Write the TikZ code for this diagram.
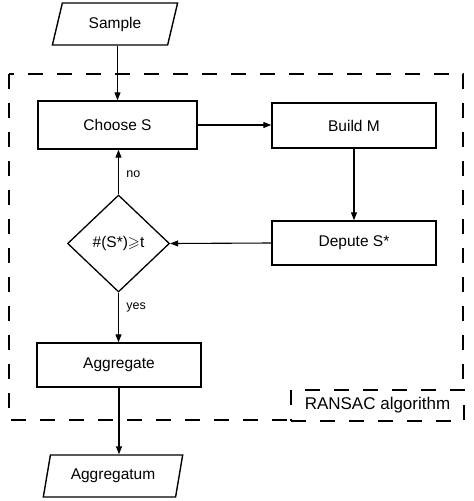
\documentclass[tikz,border=0pt]{standalone}
\usepackage{fontspec}
\usepackage{amssymb}
\setmainfont{Liberation Sans}
\usetikzlibrary{shapes.geometric,arrows.meta}
\begin{document}
\begin{tikzpicture}[x=1pt,y=-1pt,
  every node/.style={font=\fontsize{15.5}{18}\selectfont},
  proc/.style={draw,line width=1.4pt,rectangle,inner sep=0pt},
  io/.style={draw,line width=1.4pt,trapezium,trapezium left angle=71,trapezium right angle=109,trapezium stretches=true,inner sep=0pt},
  dec/.style={draw,line width=1.3pt,diamond,inner sep=0pt},
  flow/.style={line width=1.1pt,-{Triangle[length=8pt,width=6pt]}},
  lbl/.style={font=\fontsize{12.5}{14}\selectfont},
  frame/.style={line width=2pt,dash pattern=on 15pt off 14pt}]
\useasboundingbox (0,0) rectangle (474,501);
% algorithm frame
\draw[frame] (9,74) rectangle (463,420);
\node[draw,fill=white,frame,minimum width=173pt,minimum height=31pt,inner sep=0pt,
  font=\fontsize{17}{20}\selectfont,anchor=north west] (ransac) at (290,389) {RANSAC algorithm};
% nodes
\node[io,minimum width=126pt,minimum height=42pt] (sample) at (115,24) {Sample};
\node[proc,minimum width=159pt,minimum height=48pt] (choose) at (117.5,125) {Choose S};
\node[proc,minimum width=164pt,minimum height=45pt] (build) at (354,125.5) {Build M};
\node[proc,minimum width=164pt,minimum height=44pt] (depute) at (354,243) {Depute S*};
\node[dec,minimum width=102pt,minimum height=97pt] (dia) at (118.5,243.5) {\#(S*)$\geqslant$t};
\node[proc,minimum width=164pt,minimum height=44pt] (aggr) at (119,365) {Aggregate};
\node[io,minimum width=140pt,minimum height=42pt] (aggm) at (113,476) {Aggregatum};
% connectors
\draw[flow] (choose.north |- sample.south) -- (choose.north);
\draw[flow] (choose.east) -- (choose.east -| build.west);
\draw[flow] (build.south) -- (depute.north);
\draw[flow] (depute.west) -- (dia.east);
\draw[flow] (dia.north) -- node[lbl,right=4pt,pos=0.45] {no} (dia.north |- choose.south);
\draw[flow] (dia.south) -- node[lbl,right=4pt,pos=0.3] {yes} (dia.south |- aggr.north);
\draw[flow] (aggr.south) -- (aggr.south |- aggm.north);
\end{tikzpicture}
\end{document}
